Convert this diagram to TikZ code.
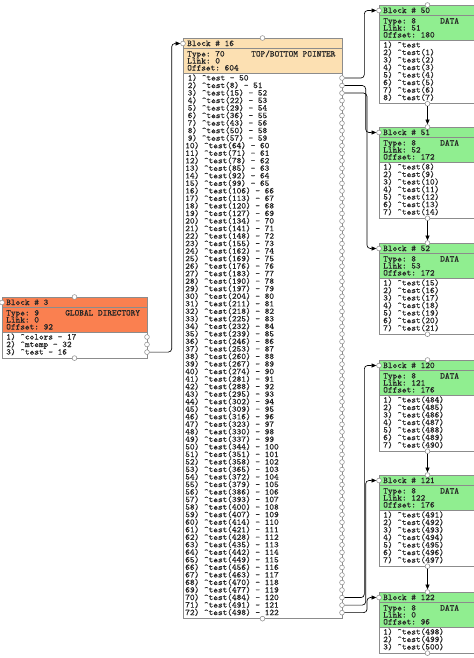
\documentclass[tikz,border=0pt]{standalone}
\usepackage{fontspec}
\setmonofont{Latin Modern Mono}[FakeBold=0.3]
\usetikzlibrary{arrows.meta}
\definecolor{coralc}{RGB}{250,128,80}
\definecolor{mocc}{RGB}{252,224,178}
\definecolor{lgreen}{RGB}{144,238,144}
\definecolor{bgray}{RGB}{140,140,140}
\tikzset{
  bline/.style={draw=bgray, line width=0.6pt},
  port/.style={circle, draw=bgray, fill=white, line width=0.4pt, inner sep=0pt, minimum size=3.6pt},
  txt/.style={anchor=base west, inner sep=0pt, text=black!85, font=\ttfamily\fontsize{6.6}{7}\selectfont},
  conn/.style={draw=black, line width=0.5pt, rounded corners=2.5pt, -{Triangle[length=3.6pt,width=3pt]}},
  chain/.style={draw=black, line width=0.5pt, -{Triangle[length=3.6pt,width=3pt]}},
}
% name, left, right, top, nlines, colour
\newcommand\mkblock[6]{%
  \pgfmathsetmacro\blkH{#4+10.5}%
  \pgfmathsetmacro\blkI{#4+35.5}%
  \pgfmathsetmacro\blkB{#4+35.5+#5*7.53+3}%
  \pgfmathsetmacro\blkM{(#2+#3)/2}%
  \pgfmathsetmacro\blkP{#4+5.5}%
  \fill[#6] (#2,#4) rectangle (#3,\blkI);
  \draw[bline] (#2,#4) rectangle (#3,\blkB);
  \draw[bline] (#2,\blkH) -- (#3,\blkH);
  \draw[bline] (#2,\blkI) -- (#3,\blkI);
  \node[port] (#1top) at (\blkM,#4) {};
  \node[port] (#1bot) at (\blkM,\blkB) {};
  \node[port] (#1in) at (#2,\blkP) {};
}
% left, top, header, type, right x, right text, link, offset
\newcommand\blktext[8]{%
  \node[txt] at (#1+4,#2+8) {#3};
  \node[txt] at (#1+4,#2+18.5) {#4};
  \node[txt] at (#5,#2+18.5) {#6};
  \node[txt] at (#1+4,#2+25.5) {Link: #7};
  \node[txt] at (#1+4,#2+32.5) {Offset: #8};
}
% left, top, n, start
\newcommand\numlist[4]{%
  \foreach \i in {1,...,#3} {%
    \pgfmathtruncatemacro\tn{#4+\i-1}%
    \pgfmathsetmacro\ly{#2+42.5+7.53*(\i-1)}%
    \ifnum\tn=0
      \node[txt] at (#1+4,\ly) {\i)\ \textasciicircum test};
    \else
      \node[txt] at (#1+4,\ly) {\i)\ \textasciicircum test(\tn)};
    \fi
  }%
}
\begin{document}
\begin{tikzpicture}[x=0.75pt,y=-0.75pt]
\useasboundingbox (0,0) rectangle (474,658);
\fill[white] (0,0) rectangle (474,658);

% ---- Block 3
\mkblock{b3}{2}{147}{297}{3}{coralc}
\blktext{2}{297}{Block \# 3}{Type: 9}{65}{GLOBAL DIRECTORY}{0}{92}
\node[txt] at (6,339.5) {1)\ \textasciicircum colors - 17};
\node[txt] at (6,347.0) {2)\ \textasciicircum mtemp - 32};
\node[txt] at (6,354.6) {3)\ \textasciicircum test - 16};
\node[port] (b3p1) at (147,337) {};
\node[port] (b3p2) at (147,344.5) {};
\node[port] (b3p3) at (147,352.1) {};

% ---- Block 16
\mkblock{b16}{183}{342}{38}{72}{mocc}
\blktext{183}{38}{Block \# 16}{Type: 70}{251}{TOP/BOTTOM POINTER}{0}{604}
\foreach \i in {1,...,72} {%
  \pgfmathtruncatemacro\tn{7*\i-6}%
  \pgfmathtruncatemacro\bn{\i<8 ? 49+\i : 50+\i}%
  \pgfmathsetmacro\yy{78+7.53*(\i-1)}%
  \pgfmathsetmacro\yb{\yy+2.5}%
  \ifnum\i<10 \def\xx{187.5}\else\def\xx{185}\fi
  \ifnum\i=1
    \node[txt] at (\xx,\yb) {\i)\ \textasciicircum test - \bn};
  \else
    \node[txt] at (\xx,\yb) {\i)\ \textasciicircum test(\tn) - \bn};
  \fi
  \node[port] (p\i) at (342,\yy) {};
}

% ---- green blocks
\mkblock{b50}{379}{476}{5}{8}{lgreen}
\blktext{379}{5}{Block \# 50}{Type: 8}{440}{DATA}{51}{180}
\numlist{379}{5}{8}{0}

\mkblock{b51}{379}{476}{127}{7}{lgreen}
\blktext{379}{127}{Block \# 51}{Type: 8}{440}{DATA}{52}{172}
\numlist{379}{127}{7}{8}

\mkblock{b52}{379}{476}{243}{7}{lgreen}
\blktext{379}{243}{Block \# 52}{Type: 8}{440}{DATA}{53}{172}
\numlist{379}{243}{7}{15}

\mkblock{b120}{379}{476}{360}{7}{lgreen}
\blktext{379}{360}{Block \# 120}{Type: 8}{440}{DATA}{121}{176}
\numlist{379}{360}{7}{484}

\mkblock{b121}{379}{476}{475}{7}{lgreen}
\blktext{379}{475}{Block \# 121}{Type: 8}{440}{DATA}{122}{176}
\numlist{379}{475}{7}{491}

\mkblock{b122}{379}{476}{592}{3}{lgreen}
\blktext{379}{592}{Block \# 122}{Type: 8}{440}{DATA}{0}{96}
\numlist{379}{592}{3}{498}

% ---- connectors
\draw[conn] (b3p3.east) -| ([xshift=-6.5pt]b16in.west) -- (b16in.west);
\draw[conn] (p1.east) -| ([xshift=-9pt]b50in.west) -- (b50in.west);
\draw[conn] (p2.east) -| ([xshift=-8pt]b51in.west) -- (b51in.west);
\draw[conn] (p3.east) -| ([xshift=-7pt]b52in.west) -- (b52in.west);
\draw[conn] (p70.east) -| ([xshift=-9pt]b120in.west) -- (b120in.west);
\draw[conn] (p71.east) -| ([xshift=-8pt]b121in.west) -- (b121in.west);
\draw[conn] (p72.east) -| ([xshift=-7pt]b122in.west) -- (b122in.west);

\draw[chain] (b50bot) -- (b51top);
\draw[chain] (b51bot) -- (b52top);
\draw[chain] (b120bot) -- (b121top);
\draw[chain] (b121bot) -- (b122top);
\end{tikzpicture}
\end{document}
